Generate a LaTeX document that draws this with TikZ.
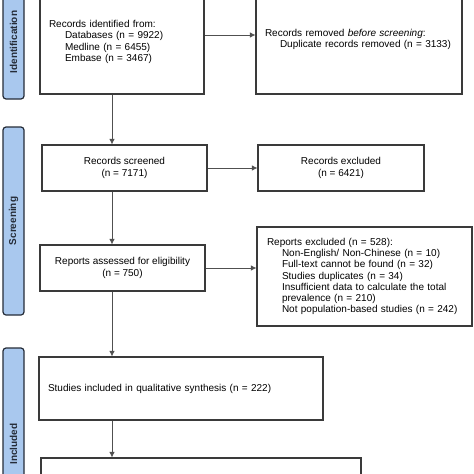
\documentclass[tikz,border=0pt]{standalone}
\usepackage{fontspec}
\setmainfont{Liberation Sans}
\usetikzlibrary{arrows.meta}
\definecolor{barblue}{HTML}{A9C8EE}
\definecolor{bardark}{HTML}{252C38}
\definecolor{boxline}{HTML}{3A3A3A}
\definecolor{arrowgray}{HTML}{505050}
\tikzset{
  flowbox/.style = {draw = boxline, line width = 1.1pt, fill = white, inner sep = 0pt, font = \fontsize{10}{11.3}\selectfont},
  arr/.style = {draw = arrowgray, line width = 0.8pt, -{Latex[length = 5.5pt, width = 5.5pt]}},
  barlabel/.style = {rotate = 90, text = bardark, font = \bfseries\fontsize{10}{11}\selectfont}
}
\begin{document}
\begin{tikzpicture}[x = 1pt, y = -1pt]
\path[use as bounding box, clip] (0,0) rectangle (474,474);
% phase bars
\foreach \top/\bot/\label in {-15/99/Identification, 127/315/Screening, 348/540/Included}
{
\draw [fill = barblue, draw = bardark, line width = 1.2pt, rounded corners = 3pt] (3,\top) rectangle (24,\bot);
\node[barlabel] (bar\label) at (13.5,{(\top+\bot)/2}) {\label};
}
% boxes
\node[flowbox, minimum width = 164pt, minimum height = 104pt, text width = 146pt, align = left] (ident) at (122,42)
  {Records identified from:\\\hspace*{16pt}Databases (n = 9922)\\\hspace*{16pt}Medline (n = 6455)\\\hspace*{16pt}Embase (n = 3467)};
\node[flowbox, minimum width = 206pt, minimum height = 109pt, text width = 188pt, align = left] (removed) at (359,39.5)
  {Records removed \textit{before screening}:\\\hspace*{15pt}Duplicate records removed (n = 3133)};
\node[flowbox, minimum width = 165pt, minimum height = 46pt, align = center] (screened) at (124.5,168)
  {Records screened\\(n = 7171)};
\node[flowbox, minimum width = 166pt, minimum height = 46pt, align = center] (excluded) at (341,168)
  {Records excluded\\(n = 6421)};
\node[flowbox, minimum width = 165pt, minimum height = 46pt, align = center] (assessed) at (122.5,268)
  {Reports assessed for eligibility\\(n = 750)};
\node[flowbox, minimum width = 215pt, minimum height = 99pt, text width = 195pt, align = left] (repexcl) at (364.5,276.5)
  {Reports excluded (n = 528):\\
   \hspace*{15pt}Non-English/ Non-Chinese (n = 10)\\
   \hspace*{15pt}Full-text cannot be found (n = 32)\\
   \hspace*{15pt}Studies duplicates (n = 34)\\
   \hspace*{15pt}Insufficient data to calculate the total\\
   \hspace*{15pt}prevalence (n = 210)\\
   \hspace*{15pt}Not population-based studies (n = 242)};
\node[flowbox, minimum width = 284pt, minimum height = 63pt, text width = 266pt, align = left] (qualit) at (181,388.5)
  {Studies included in qualitative synthesis (n = 222)};
\node[flowbox, minimum width = 320pt, minimum height = 62pt] (quant) at (201,489) {};
% connectors
\coordinate (spine) at (112,0);
\coordinate (idout) at ([yshift = 7pt]ident.east);
\draw[arr] (ident.south -| spine) -- (screened.north -| spine);
\draw[arr] (screened.south -| spine) -- (assessed.north -| spine);
\draw[arr] (assessed.south -| spine) -- (qualit.north -| spine);
\draw[arr] (qualit.south -| spine) -- (quant.north -| spine);
\draw[arr] (idout) -- (removed.west |- idout);
\draw[arr] (screened.east) -- (excluded.west);
\draw[arr] (assessed.east) -- (repexcl.west |- assessed.east);
\end{tikzpicture}
\end{document}
